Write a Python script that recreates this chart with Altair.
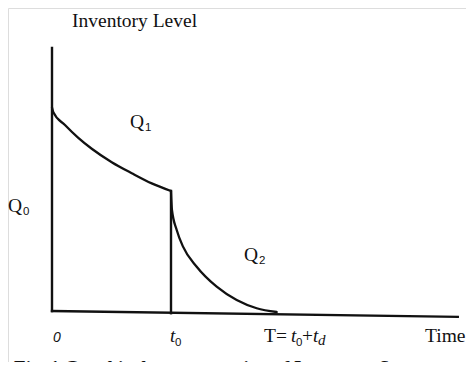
import altair as alt
import pandas as pd

# ---- data (time in units of t0, level in units of I(t0)) ----
q1_t = [0.0, 0.011, 0.109, 0.221, 0.334, 0.502, 0.670, 0.838, 1.0]
q1_l = [1.69, 1.652, 1.545, 1.439, 1.349, 1.238, 1.147, 1.063, 1.0]
q2_t = [1.0, 1.008, 1.048, 1.101, 1.216, 1.384, 1.552, 1.720, 1.888]
q2_l = [1.0, 0.843, 0.678, 0.540, 0.374, 0.209, 0.099, 0.031, 0.0]
yaxis_t = [0.0, 0.0]
yaxis_l = [0.008, 2.182]
xaxis_t = [0.0, 3.41]
xaxis_l = [0.008, -0.04]
drop_t = [1.0, 1.0]
drop_l = [1.0, -0.01]

# labels: text, t, level
reg_text = ["Inventory Level", "Q", "Q", "Q", "T=", "+", "Time"]
reg_t = [0.168, -0.370, 0.655, 1.613, 1.782, 2.101, 3.475]
reg_l = [2.355, 0.826, 1.521, 0.421, -0.248, -0.248, -0.248]
reg_align = ["left", "left", "left", "left", "left", "left", "right"]

sub_text = ["0", "1", "2", "0", "0"]
sub_t = [-0.244, 0.782, 1.739, 1.034, 2.050]
sub_l = [0.802, 1.496, 0.397, -0.281, -0.281]

ital_text = ["t", "t", "t"]
ital_t = [0.992, 2.008, 2.193]
ital_l = [-0.248, -0.248, -0.248]

d_text = ["d"]
d_t = [2.235]
d_l = [-0.272]

zero_text = ["0"]
zero_t = [0.008]
zero_l = [-0.248]

cap_text = ["Fig. 1 Graphical representation of Inventory System"]
cap_t = [-0.319]
cap_l = [-0.512]

T_DOM = [-0.36975, 3.4790]
L_DOM = [-0.4132, 2.5124]

curve_rows = []
for name, ts, ls in [("q1", q1_t, q1_l), ("q2", q2_t, q2_l)]:
    for i, (t, l) in enumerate(zip(ts, ls)):
        curve_rows.append({"series": name, "i": i, "t": t, "l": l})
curves_df = pd.DataFrame(curve_rows)

seg_rows = []
for name, ts, ls in [("ya", yaxis_t, yaxis_l), ("xa", xaxis_t, xaxis_l), ("drop", drop_t, drop_l)]:
    for i, (t, l) in enumerate(zip(ts, ls)):
        seg_rows.append({"series": name, "i": i, "t": t, "l": l})
segs_df = pd.DataFrame(seg_rows)

xs = alt.Scale(domain=T_DOM, nice=False, zero=False)
ys = alt.Scale(domain=L_DOM, nice=False, zero=False)
X = lambda: alt.X("t:Q", scale=xs, axis=None)
Y = lambda: alt.Y("l:Q", scale=ys, axis=None)

curves = alt.Chart(curves_df).mark_line(
    color="#111111", strokeWidth=2.3, strokeCap="round", interpolate="monotone"
).encode(x=X(), y=Y(), detail="series:N", order="i:Q")

segs = alt.Chart(segs_df).mark_line(color="#111111", strokeWidth=2.4, strokeCap="square").encode(
    x=X(), y=Y(), detail="series:N", order="i:Q"
)

def text_layer(texts, ts, ls, aligns=None, **kw):
    df = pd.DataFrame({"text": texts, "t": ts, "l": ls,
                       "align": aligns if aligns else ["left"] * len(texts)})
    layers = []
    for a in sorted(set(df["align"])):
        sub = df[df["align"] == a]
        layers.append(alt.Chart(sub).mark_text(align=a, baseline="alphabetic", color="#111111", **kw)
                      .encode(x=X(), y=Y(), text="text:N"))
    return layers

layers = [segs, curves]
layers += text_layer(reg_text, reg_t, reg_l, reg_align, font="Liberation Serif", fontSize=19.5)
layers += text_layer(sub_text, sub_t, sub_l, font="Liberation Sans", fontSize=11.5)
layers += text_layer(ital_text, ital_t, ital_l, font="Liberation Serif", fontSize=19, fontStyle="italic")
layers += text_layer(d_text, d_t, d_l, font="Liberation Serif", fontSize=15, fontStyle="italic")
layers += text_layer(zero_text, zero_t, zero_l, font="Liberation Sans", fontSize=14, fontStyle="italic")
layers += text_layer(cap_text, cap_t, cap_l, font="Liberation Serif", fontSize=19, fontWeight="bold")

chart = alt.layer(*layers).properties(
    width=458, height=354, padding=0, autosize=alt.AutoSizeParams(type="none")
).configure_view(stroke=None).configure(background="white")

chart.save("out.html", embed_options={"renderer": "svg", "actions": False})
